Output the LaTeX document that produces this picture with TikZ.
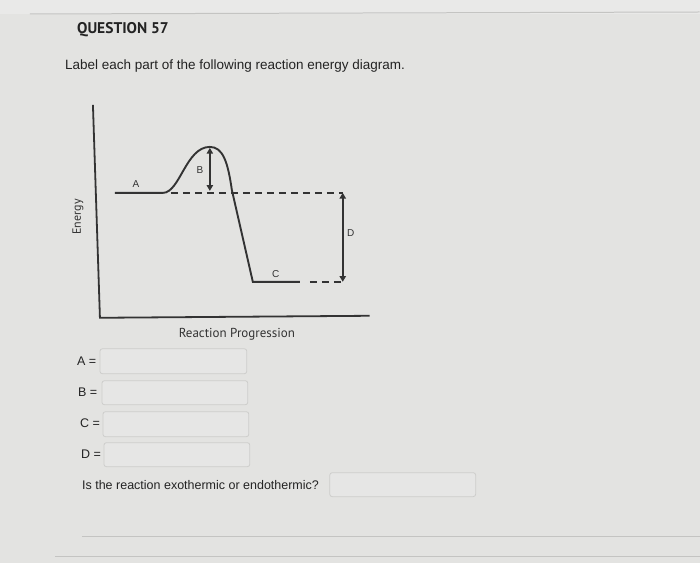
\documentclass[tikz,border=0pt]{standalone}
\usepackage{fontspec}
\setmainfont{Liberation Sans}
\newfontfamily\myriad{PT Sans}
\usetikzlibrary{arrows.meta}
\definecolor{pagebg}{HTML}{E3E3E1}
\definecolor{topbg}{HTML}{E9E9E8}
\definecolor{ink}{HTML}{232323}
\definecolor{plotink}{HTML}{333333}
\definecolor{boxline}{HTML}{CDCDCB}
\definecolor{boxfill}{HTML}{E6E6E5}
\definecolor{rule}{HTML}{C4C4C2}
\tikzset{>={Triangle[width=2.2mm,length=2mm]}}

\begin{document}
\begin{tikzpicture}[x=1pt,y=-1pt]
  \tikzstyle{ansbox} = [draw=boxline, fill=boxfill, line width=0.8pt, rounded corners=2.5pt]
  \tikzstyle{anslbl} = [text=ink, font=\fontsize{12.5}{14}\selectfont, anchor=west, inner sep=0pt]
  \tikzstyle{plbl} = [text=plotink, font=\fontsize{10}{12}\selectfont, inner sep=0pt]
  \tikzstyle{curve} = [draw=plotink, line width=1.9pt]
  \tikzstyle{dashline} = [draw=plotink, line width=1.5pt, dash pattern=on 7pt off 5pt]

  \fill[pagebg] (0,0) rectangle (700,563);
  \fill[topbg] (0,0) rectangle (700,14);
  \draw[rule, line width=1pt] (30,14) -- (700,12);

  \node[anchor=west, text=ink, font=\myriad\bfseries\fontsize{15.5}{17}\selectfont, inner sep=0pt] (qnum) at (77,30) {QUESTION 57};
  \node[anchor=west, text=ink, font=\fontsize{13.5}{16}\selectfont, inner sep=0pt] (task) at (65,66) {Label each part of the following reaction energy diagram.};

  % axes
  \coordinate (ytop) at (93,105);
  \coordinate (orig) at (100,318);
  \coordinate (xend) at (370,316);
  \draw[plotink, line width=1.8pt] (ytop) -- (orig) -- (xend);
  \node[text=plotink, font=\myriad\fontsize{12}{14}\selectfont, rotate=90] (enrg) at (78,217) {Energy};
  \node[text=plotink, font=\myriad\fontsize{13}{15}\selectfont] (rxnp) at (237,335) {Reaction Progression};

  % energy profile
  \coordinate (rstart) at (115,193);
  \coordinate (rend) at (163,193);
  \coordinate (peak) at (210,147);
  \coordinate (pstart) at (253,282);
  \coordinate (pend) at (300,282);
  \draw[curve] (rstart) -- (rend) .. controls (180,193) and (186,147) .. (peak)
        .. controls (223,147) and (228,162) .. (232,190) -- (pstart) -- (pend);
  \draw[dashline] (171,193) -- (343,193);
  \draw[dashline] (310,282) -- (343,282);

  \coordinate (btop) at (210,148);
  \coordinate (bbot) at (210,191);
  \coordinate (dtop) at (343,193);
  \coordinate (dbot) at (343,282);
  \draw[<->, plotink, line width=1.7pt] (btop) -- (bbot);
  \draw[<->, plotink, line width=1.5pt] (dtop) -- (dbot);

  \node[plbl] (la) at (136,184) {A};
  \node[plbl] (lb) at (200,170) {B};
  \node[plbl] (lc) at (276,274) {C};
  \node[plbl] (ld) at (351,233) {D};

  % answer fields
  \node[anslbl] (qa) at (77,361) {A =};
  \node[anslbl] (qb) at (78,392) {B =};
  \node[anslbl] (qc) at (80,423) {C =};
  \node[anslbl] (qd) at (81,455) {D =};
  \draw[ansbox] (100,349) rectangle (247,374);
  \draw[ansbox] (102,381) rectangle (248,405);
  \draw[ansbox] (103,412) rectangle (249,437);
  \draw[ansbox] (104,443) rectangle (250,467);

  \node[anslbl] (qexo) at (82,485) {Is the reaction exothermic or endothermic?};
  \draw[ansbox] (330,473) rectangle (476,497);

  \draw[rule, line width=0.8pt] (82,537) -- (700,537);
  \draw[rule, line width=0.8pt] (55,557) -- (700,557);
\end{tikzpicture}
\end{document}
